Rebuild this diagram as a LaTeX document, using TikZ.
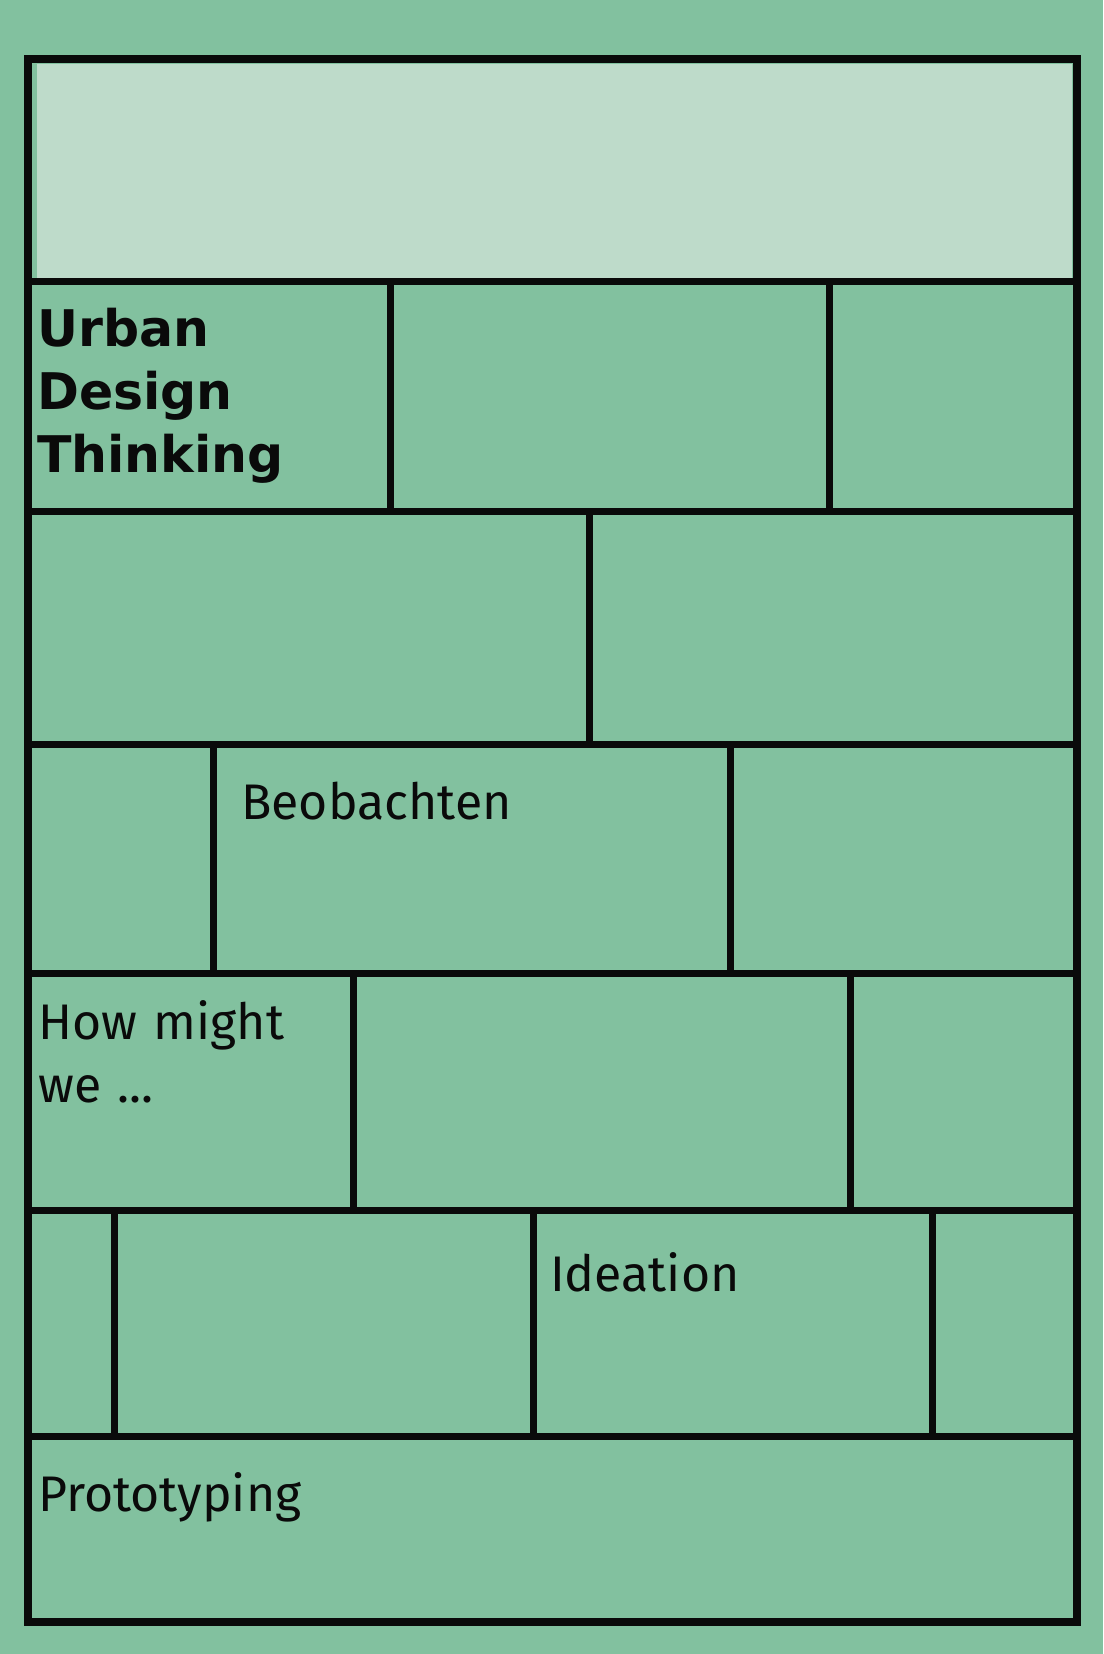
\documentclass[tikz,border=0pt]{standalone}
\usepackage{fontspec}
\setmainfont{Fira Sans}
\newfontfamily\titlefont{DejaVu Sans}[UprightFont=* Bold]
\definecolor{bggreen}{HTML}{82C19F}
\definecolor{lightgreen}{HTML}{BEDBCA}
\definecolor{ink}{HTML}{0A0A0A}
\begin{document}
\begin{tikzpicture}[x=1pt,y=-1pt,
  gridline/.style={draw=ink,line width=7pt,line cap=rect},
  frame/.style={draw=ink,line width=8pt,line join=miter},
  label/.style={anchor=base west,inner sep=0pt,text width=600pt,align=left,
    font=\fontsize{50}{63}\selectfont,text=ink},
  titlelabel/.style={label,font=\titlefont\fontsize{50.5}{63}\selectfont}]
\useasboundingbox (0,0) rectangle (1103,1654);
\fill[bggreen] (0,0) rectangle (1103,1654);
\fill[lightgreen] (37,64) rectangle (1072,278);
% rows
\draw[gridline] (28,281.5) -- (1077,281.5);
\draw[gridline] (28,511.5) -- (1077,511.5);
\draw[gridline] (28,744) -- (1077,744);
\draw[gridline] (28,973.5) -- (1077,973.5);
\draw[gridline] (28,1210) -- (1077,1210);
\draw[gridline] (28,1436.5) -- (1077,1436.5);
% row 1
\draw[gridline] (390,281.5) -- (390,511.5);
\draw[gridline] (829,281.5) -- (829,511.5);
% row 2
\draw[gridline] (589,511.5) -- (589,744);
% row 3
\draw[gridline] (213.5,744) -- (213.5,973.5);
\draw[gridline] (730,744) -- (730,973.5);
% row 4
\draw[gridline] (353,973.5) -- (353,1210);
\draw[gridline] (850.5,973.5) -- (850.5,1210);
% row 5
\draw[gridline] (114.3,1210) -- (114.3,1436.5);
\draw[gridline] (533.5,1210) -- (533.5,1436.5);
\draw[gridline] (932,1210) -- (932,1436.5);
% outer frame
\draw[frame] (28,59) rectangle (1077,1621.5);
% texts
\node[titlelabel] (title) at (37,346) {Urban\\Design\\Thinking};
\node[label] (beob) at (241,819) {Beobachten};
\node[label] (hmw) at (38,1039) {How might\\we ...};
\node[label] (idea) at (550,1291) {Ideation};
\node[label] (proto) at (38,1511) {Prototyping};
\end{tikzpicture}
\end{document}
